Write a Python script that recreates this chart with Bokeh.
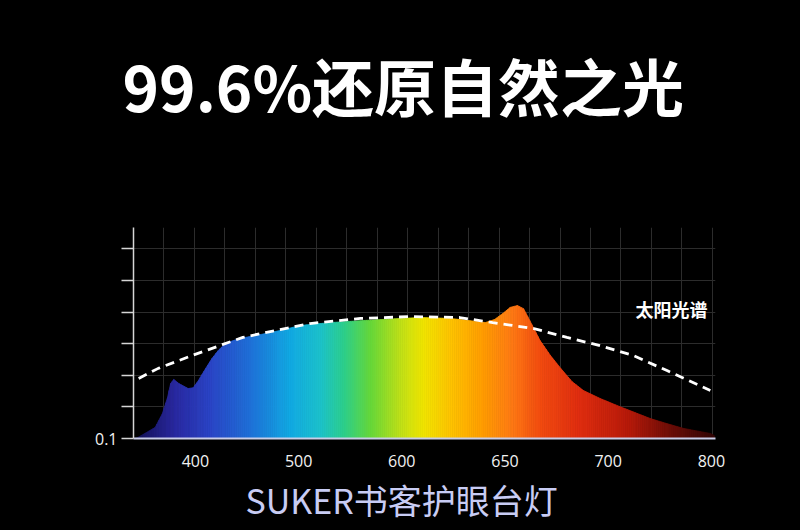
import numpy as np
from bokeh.plotting import figure
from bokeh.models import FixedTicker, Label, Range1d, Title
from bokeh.embed import file_html
from bokeh.resources import INLINE

# ---------------- data ----------------
title_text = "99.6%还原自然之光"
brand_text = "SUKER书客护眼台灯"
sun_label = "太阳光谱"

tick_nm = [400, 500, 600, 650, 700, 800]
tick_labels = ["400", "500", "600", "650", "700", "800"]
y_ticks = [0.1, 0.2, 0.3, 0.4, 0.5, 0.6, 0.7]
y_labels = ["0.1", "", "", "", "", "", ""]

# lamp spectrum (wavelength nm, relative value)
spec_nm = [341, 344, 361, 368, 373, 376, 379, 384, 393, 398,
           403, 410, 416, 422, 429, 442, 463, 482, 502, 531,
           560, 599, 609, 623.5, 633, 640.5, 645, 649, 652.5, 656,
           659, 661, 664, 667, 672, 677, 682.5, 688, 696, 709,
           726, 741, 757, 773, 789, 799, 803]
spec_val = [0.100, 0.103, 0.135, 0.179, 0.230, 0.274, 0.287, 0.274, 0.258, 0.261,
            0.284, 0.322, 0.353, 0.378, 0.401, 0.416, 0.429, 0.442, 0.458, 0.467,
            0.473, 0.480, 0.483, 0.480, 0.473, 0.467, 0.477, 0.496, 0.515, 0.521,
            0.511, 0.486, 0.448, 0.410, 0.363, 0.322, 0.280, 0.252, 0.227, 0.204,
            0.182, 0.163, 0.147, 0.132, 0.122, 0.116, 0.109]

# sunlight reference curve
sun_nm = [345, 364, 397, 426, 446, 463, 482, 511, 560, 604,
          628, 644, 664, 680, 696, 724, 757, 799]
sun_val = [0.290, 0.322, 0.363, 0.397, 0.420, 0.432, 0.445, 0.464, 0.480, 0.486,
           0.483, 0.467, 0.448, 0.420, 0.394, 0.363, 0.315, 0.252]

# ---------------- styles ----------------
color_stops_nm = [347, 381, 414, 453, 492, 521, 545, 570, 599, 611,
                  624, 638, 653, 667, 686, 721, 760, 801]
color_stops = ["#16145e", "#2a2aa2", "#2b44c6", "#1f70d8", "#12aae4", "#1cc2cc",
               "#2ed08a", "#66d83a", "#c0e218", "#f2e400", "#ffc400", "#ffa000",
               "#ff7c14", "#f24c10", "#e02e10", "#b61a0a", "#6e0e08", "#340606"]

# equally spaced labelled ticks -> piecewise linear axis position
tick_pos = [400, 500, 600, 700, 800, 900]


def to_pos(nm):
    nm = np.asarray(nm, dtype=float)
    return np.interp(nm, [300] + tick_nm + [900], [300] + tick_pos + [1000])


def hex_to_rgb(h):
    h = h.lstrip("#")
    return np.array([int(h[i:i + 2], 16) for i in (0, 2, 4)], dtype=float)


stop_pos = to_pos(color_stops_nm)
stop_rgb = np.array([hex_to_rgb(c) for c in color_stops])


def color_at(xp):
    r = [np.interp(xp, stop_pos, stop_rgb[:, k]) for k in range(3)]
    return "#%02x%02x%02x" % tuple(int(round(v)) for v in r)


X0, X1 = 340, 904
Y0, Y1 = 0.1, 0.768

p = figure(width=800, height=530, x_range=Range1d(X0, X1), y_range=Range1d(Y0, Y1),
           output_backend="svg", toolbar_location=None,
           background_fill_color="black", border_fill_color="black",
           outline_line_color=None,
           min_border_left=133, min_border_right=85,
           min_border_top=227, min_border_bottom=92)

# titles (a blank spacer title keeps the headline clear of the plot area)
spacer = Title(text=" ", standoff=90, text_font_size="1px", text_color="black")
p.add_layout(spacer, "above")
top_title = Title(text=title_text, align="left", offset=-11, standoff=10,
                  text_font="Noto Sans CJK SC", text_font_style="bold",
                  text_font_size="62px", text_color="white")
p.add_layout(top_title, "above")
bottom_title = Title(text=brand_text, align="left", offset=112, standoff=6,
                     text_font="Noto Sans CJK SC", text_font_style="normal",
                     text_font_size="34px", text_color="#c8ccf4")
p.add_layout(bottom_title, "below")

# grid
grid_step = (901 - X0) / 19.0
grid_x = [X0 + grid_step * k for k in range(1, 20)]
p.xgrid.ticker = FixedTicker(ticks=grid_x)
p.xgrid.grid_line_color = "#2c2c2c"
p.ygrid.grid_line_color = "#2c2c2c"
p.xgrid.grid_line_width = 1
p.ygrid.grid_line_width = 1

# x axis
xt = [float(v) for v in to_pos(tick_nm)]
p.xaxis.ticker = FixedTicker(ticks=xt)
p.xaxis.major_label_overrides = {t: l for t, l in zip(xt, tick_labels)}
p.xaxis.axis_line_color = "#c9cde8"
p.xaxis.axis_line_width = 2
p.xaxis.major_tick_line_color = None
p.xaxis.minor_tick_line_color = None
p.xaxis.major_label_text_color = "#f2f2f2"
p.xaxis.major_label_text_font = "Open Sans"
p.xaxis.major_label_text_font_size = "16px"
p.xaxis.major_label_standoff = 10

# y axis
p.yaxis.ticker = FixedTicker(ticks=y_ticks)
p.yaxis.major_label_overrides = {t: l for t, l in zip(y_ticks, y_labels)}
p.yaxis.axis_line_color = "#d6d6d6"
p.yaxis.axis_line_width = 1.5
p.yaxis.major_tick_in = 0
p.yaxis.major_tick_out = 12
p.yaxis.major_tick_line_color = "#d6d6d6"
p.yaxis.major_tick_line_width = 1.5
p.yaxis.minor_tick_line_color = None
p.yaxis.major_label_text_color = "#f2f2f2"
p.yaxis.major_label_text_font = "Open Sans"
p.yaxis.major_label_text_font_size = "16px"
p.yaxis.major_label_standoff = 4

# spectrum fill as thin coloured slices along the read curve
sx = to_pos(spec_nm)
sy = np.asarray(spec_val, dtype=float)
xs, ys, cols = [], [], []
for i in range(len(sx) - 1):
    n = max(1, int(np.ceil((sx[i + 1] - sx[i]) / 2.0)))
    for j in range(n):
        t0, t1 = j / n, (j + 1) / n
        xa = sx[i] + (sx[i + 1] - sx[i]) * t0
        xb = sx[i] + (sx[i + 1] - sx[i]) * t1
        ya = sy[i] + (sy[i + 1] - sy[i]) * t0
        yb = sy[i] + (sy[i + 1] - sy[i]) * t1
        xs.append([xa, xb, xb, xa])
        ys.append([ya, yb, Y0, Y0])
        cols.append(color_at((xa + xb) / 2))

p.patches(xs, ys, fill_color=cols, line_color=cols, line_width=0.8)

# sunlight dashed curve
p.line(to_pos(sun_nm), sun_val, line_color="white", line_width=2.8, line_dash="9 6")

# series label
p.add_layout(Label(x=826.4, y=0.51, text=sun_label, text_align="left",
                   text_baseline="middle", text_font="Noto Sans CJK SC",
                   text_font_style="bold", text_font_size="18px", text_color="white"))

html = file_html(p, INLINE)
html = html.replace("</head>", "<style>html,body{background:#000000;}</style></head>", 1)
open("out.html", "w").write(html)
